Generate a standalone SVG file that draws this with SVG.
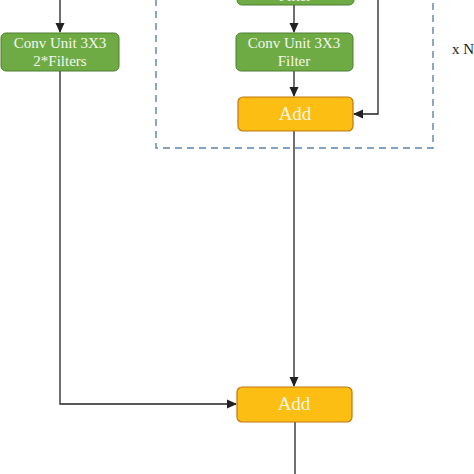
<svg xmlns="http://www.w3.org/2000/svg" width="474" height="474" viewBox="0 0 474 474">
<style>
.g{fill:#6FAB45;stroke:#4E7F30;stroke-width:1}
.o{fill:#FCBE12;stroke:#C2770F;stroke-width:1.2}
.t{font-family:"Liberation Serif",serif;fill:#F4F7EC;text-anchor:middle}
.s{font-size:15px}
.a{font-size:19px;fill:#FFF7E0}
.c{fill:none;stroke:#222;stroke-width:1.3}
</style>
<defs>
<marker id="ah" markerWidth="10" markerHeight="10" refX="9" refY="5" orient="auto" markerUnits="userSpaceOnUse">
<path d="M0,0.5 L10,5 L0,9.5 Z" fill="#222"/>
</marker>
</defs>
<rect width="474" height="474" fill="#fff"/>
<rect x="156" y="-20" width="277" height="168" fill="none" stroke="#5B82AE" stroke-width="1.4" stroke-dasharray="7,5"/>
<text x="452" y="54" font-family="Liberation Serif,serif" font-size="15" fill="#222">x N</text>
<g id="connectors">
<path class="c" d="M60,0 V32" marker-end="url(#ah)"/>
<path class="c" d="M60,71 V404 H236" marker-end="url(#ah)"/>
<path class="c" d="M294,5 V32" marker-end="url(#ah)"/>
<path class="c" d="M294,71 V96" marker-end="url(#ah)"/>
<path class="c" d="M378,0 V114 H354" marker-end="url(#ah)"/>
<path class="c" d="M294,131 V386" marker-end="url(#ah)"/>
<path class="c" d="M295,422 V474"/>
</g>
<g id="conv_top">
<rect class="g" x="237" y="-33" width="117" height="38" rx="5"/>
<text class="t s" x="295" y="1">Filter</text>
</g>
<g id="conv_left">
<rect class="g" x="1" y="33" width="118" height="38" rx="5"/>
<text class="t s" x="60" y="48">Conv Unit 3X3</text>
<text class="t s" x="60" y="66">2*Filters</text>
</g>
<g id="conv_mid">
<rect class="g" x="236" y="33" width="117" height="38" rx="5"/>
<text class="t s" x="294" y="48">Conv Unit 3X3</text>
<text class="t s" x="294" y="66">Filter</text>
</g>
<g id="add_inner">
<rect class="o" x="238" y="97" width="115" height="34" rx="5"/>
<text class="t a" x="295" y="120">Add</text>
</g>
<g id="add_outer">
<rect class="o" x="237" y="387" width="115" height="35" rx="5"/>
<text class="t a" x="294" y="410">Add</text>
</g>
</svg>
